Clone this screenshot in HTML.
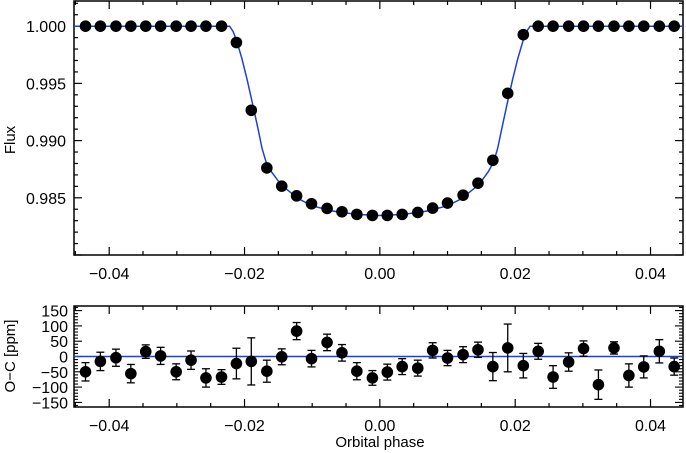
<!DOCTYPE html>
<html><head><meta charset="utf-8"><style>
body{margin:0;background:#fff;}
svg{display:block;font-family:"Liberation Sans",sans-serif;}
</style></head><body>
<svg id="c" width="686" height="453"></svg>
<script>
const phases=[-0.0435,-0.0413,-0.0390,-0.0368,-0.0346,-0.0324,-0.0301,-0.0279,-0.0257,-0.0234,-0.0212,-0.0190,-0.0167,-0.0145,-0.0123,-0.0101,-0.0078,-0.0056,-0.0034,-0.0011,0.0011,0.0033,0.0056,0.0078,0.0100,0.0123,0.0145,0.0167,0.0189,0.0212,0.0234,0.0256,0.0279,0.0301,0.0323,0.0346,0.0368,0.0390,0.0413,0.0435];
const flux=[1,1,1,1,1,1,1,1,1,1,0.99857,0.99265,0.98761,0.98602,0.98517,0.98448,0.98407,0.98378,0.98355,0.98346,0.98346,0.98355,0.98372,0.98410,0.98454,0.98523,0.98628,0.98828,0.99413,0.99926,1,1,1,1,1,1,1,1,1,1];
const resid=[-50,-16,-4,-56,16,2,-50,-12,-70,-67,-23,-16,-48,-1,83,-7,46,12,-48,-70,-51,-33,-38,20,-5,6,22,-33,28,-30,17,-67,-18,26,-92,28,-62,-34,17,-33];
const residErr=[30,30,28,30,22,28,26,30,30,24,50,77,36,26,28,27,27,27,28,24,26,26,26,25,25,26,25,46,78,40,26,37,30,25,48,20,38,36,38,28];
const modelPhase=[-0.046,-0.0222,-0.0217,-0.0212,-0.0204,-0.0196,-0.0188,-0.0180,-0.0174,-0.0168,-0.0160,-0.0150,-0.0140,-0.0120,-0.0100,-0.0070,-0.0035,0,0.0035,0.0070,0.0100,0.0120,0.0140,0.0150,0.0160,0.0168,0.0174,0.0180,0.0188,0.0196,0.0204,0.0212,0.0217,0.0222,0.046];
const modelFlux=[1,1,0.99955,0.9988,0.9972,0.9953,0.9932,0.9910,0.9893,0.9881,0.98725,0.98645,0.98585,0.98490,0.98430,0.98385,0.98355,0.98345,0.98355,0.98385,0.98430,0.98490,0.98585,0.98645,0.98725,0.9881,0.9893,0.9910,0.9932,0.9953,0.9972,0.9988,0.99955,1,1];
const xTicks=[-0.04,-0.02,0,0.02,0.04];
const xTickLabels=["\u22120.04","\u22120.02","0.00","0.02","0.04"];
const fTicks=[1.0,0.995,0.99,0.985];
const fTickLabels=["1.000","0.995","0.990","0.985"];
const rTicks=[150,100,50,0,-50,-100,-150];
const rTickLabels=["150","100","50","0","\u221250","\u2212100","\u2212150"];

const NS="http://www.w3.org/2000/svg";
const svg=document.getElementById('c');
const L=74,R=683,T1=1,B1=255,T2=306,B2=407;
const X0=-0.0452,X1=0.0448;
const xs=v=>L+(v-X0)/(X1-X0)*(R-L);
const F0=0.9800,F1=1.0022;
const yf=v=>B1-(v-F0)/(F1-F0)*(B1-T1);
const R0=-165,R1=165;
const yr=v=>B2-(v-R0)/(R1-R0)*(B2-T2);
function el(t,a,p){const e=document.createElementNS(NS,t);for(const k in a)e.setAttribute(k,a[k]);(p||svg).appendChild(e);return e;}
function line(x1,y1,x2,y2,c,w,p){return el('line',{x1,y1,x2,y2,stroke:c||'#000','stroke-width':w||1.3},p);}

function frame(T,B,name){
  const g=el('g',{});
  
  
  el('rect',{x:L,y:T,width:R-L,height:B-T,fill:'none',stroke:'#000','stroke-width':1.5},g);
  for(let v=-0.045;v<=0.0451;v+=0.005){
    const x=xs(v);if(x<L||x>R)continue;
    const maj=Math.abs(Math.round(v*1000)%20)===0;
    const len=maj?8:4;
    line(x,B,x,B-len,'#000',1.2,g);line(x,T,x,T+len,'#000',1.2,g);
  }
  return g;
}
// top panel
const g1=frame(T1,B1,'flux-panel');
for(let i=0;i<=22;i++){
  const v=F0+i*0.001;const y=yf(v);if(y<T1)continue;
  const len=(i%5===0)?8:4;
  line(L,y,L+len,y,'#000',1.2,g1);line(R,y,R-len,y,'#000',1.2,g1);
}
fTicks.forEach((v,i)=>{
  const t=el('text',{x:L-8,y:yf(v)+6,'text-anchor':'end','font-size':16},g1);
  t.textContent=fTickLabels[i];
  
  
});
const fl=el('text',{x:15,y:140,'font-size':15,'text-anchor':'middle',transform:'rotate(-90 15 140)'});
fl.textContent='Flux';


xTicks.forEach((v,i)=>{
  const t=el('text',{x:xs(v),y:B1+24,'text-anchor':'middle','font-size':16},g1);
  t.textContent=xTickLabels[i];
  
  
});
const cp=el('clipPath',{id:'cp1'});el('rect',{x:L,y:T1,width:R-L,height:B1-T1},cp);
const mg=el('g',{'clip-path':'url(#cp1)'});
const pts=modelPhase.map((p,i)=>xs(p).toFixed(1)+','+yf(modelFlux[i]).toFixed(1)).join(' ');
const ml=el('polyline',{points:pts,fill:'none',stroke:'#1f3fd8','stroke-width':1.5},mg);


phases.forEach((p,i)=>{
  const c=el('circle',{cx:xs(p),cy:yf(flux[i]),r:5.8,fill:'#000'});
  
  
});
// bottom panel
const g2=frame(T2,B2,'residual-panel');
for(let v=-160;v<=160;v+=10){
  const y=yr(v);
  const len=(v%50===0)?8:4;
  line(L,y,L+len,y,'#000',1.1,g2);line(R,y,R-len,y,'#000',1.1,g2);
}
rTicks.forEach((v,i)=>{
  const t=el('text',{x:L-6,y:yr(v)+6,'text-anchor':'end','font-size':16},g2);
  t.textContent=rTickLabels[i];
  
  
});
xTicks.forEach((v,i)=>{
  const t=el('text',{x:xs(v),y:B2+24,'text-anchor':'middle','font-size':16},g2);
  t.textContent=xTickLabels[i];
  
  
});
const rl=el('text',{x:15,y:356,'font-size':15,'text-anchor':'middle',transform:'rotate(-90 15 356)'});
rl.textContent='O\u2212C  [ppm]';


const xl=el('text',{x:380,y:447,'font-size':15,'text-anchor':'middle'});
xl.textContent='Orbital phase';


const zl=line(L,yr(0),R,yr(0),'#1f3fd8',1.5);


phases.forEach((p,i)=>{
  const x=xs(p),y=yr(resid[i]),yt=yr(resid[i]+residErr[i]),yb=yr(resid[i]-residErr[i]);
  const g=el('g',{});
  
  
  line(x,yt,x,yb,'#000',1.3,g);line(x-4,yt,x+4,yt,'#000',1.3,g);line(x-4,yb,x+4,yb,'#000',1.3,g);
  el('circle',{cx:x,cy:y,r:5.8,fill:'#000'},g);
});
</script>
</body></html>
